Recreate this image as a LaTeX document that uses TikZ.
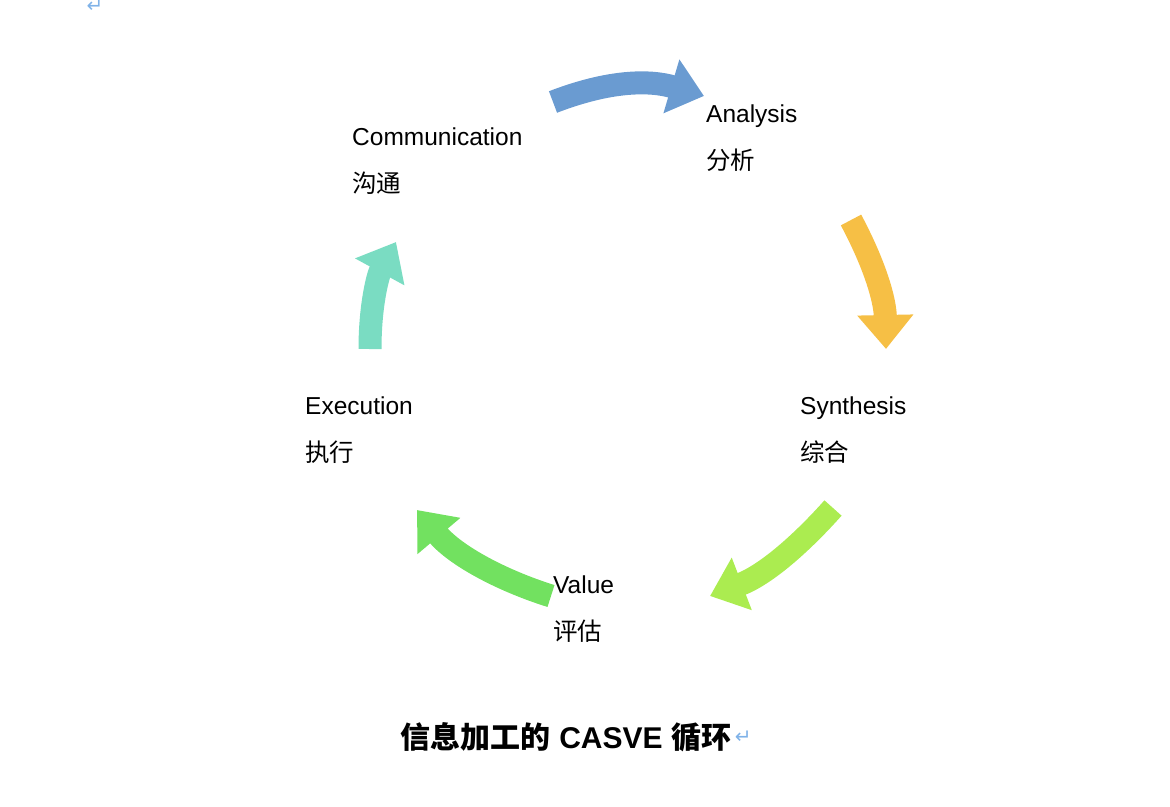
\documentclass[tikz,border=0pt]{standalone}
\usepackage{fontspec}
\setmainfont{Liberation Sans}
\newfontfamily\cjk{Noto Sans CJK SC}
\newfontfamily\dv{DejaVu Sans}
\usetikzlibrary{arrows.meta}
\definecolor{cblue}{HTML}{6A9BD1}
\definecolor{corange}{HTML}{F6BF45}
\definecolor{clime}{HTML}{ABEC50}
\definecolor{cgreen}{HTML}{72E160}
\definecolor{cteal}{HTML}{7ADCC2}
\definecolor{cmark}{HTML}{7FB2E8}
\begin{document}
\begin{tikzpicture}[x=1pt,y=-1pt,
  lbl/.style={anchor=north west,align=left,font=\fontsize{24.5}{47}\selectfont,inner sep=0pt},
  bigarrow/.style={line width=23pt,-{Triangle[width=54pt,length=34pt]}}]
\useasboundingbox (0,0) rectangle (1170,806);
\node[lbl] (a) at (706,105) {Analysis\\{\cjk 分析}};
\node[lbl] (c) at (352,128) {Communication\\{\cjk 沟通}};
\node[lbl] (s) at (800,397) {Synthesis\\{\cjk 综合}};
\node[lbl] (e) at (305,397) {Execution\\{\cjk 执行}};
\node[lbl] (v) at (553,576) {Value\\{\cjk 评估}};
\node[font=\bfseries\fontsize{30}{32}\selectfont] (t) at (566,737) {{\cjk\bfseries 信息加工的} CASVE {\cjk\bfseries 循环}};
\node[font=\dv\fontsize{20}{20}\selectfont,text=cmark,anchor=west,inner sep=0pt] (m2) at (t.east) {↵};
\node[font=\dv\fontsize{20}{20}\selectfont,text=cmark,inner sep=0pt] (m1) at (95,6) {↵};
\coordinate (b1) at (553,102); \coordinate (b2) at (704,96);
\coordinate (o1) at (851,220); \coordinate (o2) at (886,349);
\coordinate (l1) at (833,508); \coordinate (l2) at (710,596);
\coordinate (g1) at (551,596); \coordinate (g2) at (417,510);
\coordinate (t1) at (370,349); \coordinate (t2) at (396,242);
\draw[bigarrow,cblue] (b1) .. controls (610,80) and (650,80) .. (b2);
\draw[bigarrow,corange] (o1) .. controls (875,265) and (885,300) .. (o2);
\draw[bigarrow,clime] (l1) .. controls (800,545) and (765,575) .. (l2);
\draw[bigarrow,cgreen] (g1) .. controls (500,580) and (455,555) .. (g2);
\draw[bigarrow,cteal] (t1) .. controls (370,305) and (378,275) .. (t2);
\end{tikzpicture}
\end{document}
